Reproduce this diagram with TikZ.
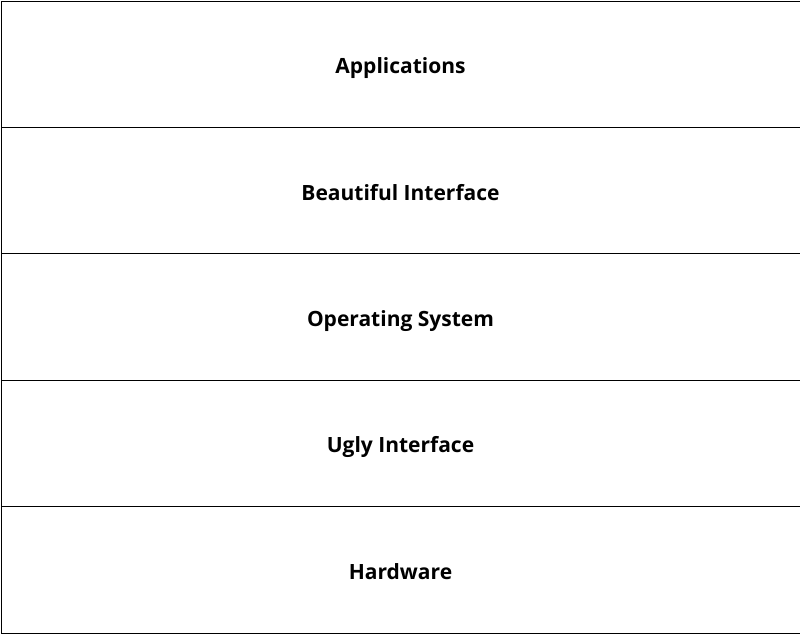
\documentclass[tikz,border=0pt]{standalone}
\usepackage{fontspec}
\setmainfont{Open Sans}
\begin{document}
\begin{tikzpicture}[x=1pt,y=-1pt,
  layer/.style={draw=black,line width=1pt,minimum width=799pt,minimum height=126.4pt,anchor=north west,inner sep=0pt,text depth=0pt,font=\fontsize{21}{25}\selectfont\bfseries}]
\useasboundingbox (0,0) rectangle (800,633);
\node[layer] (app) at (0.5,0.5) {\raisebox{-3pt}{Applications}};
\node[layer] (bi) at (0.5,126.9) {\raisebox{-3pt}{Beautiful Interface}};
\node[layer] (os) at (0.5,253.3) {\raisebox{-3pt}{Operating System}};
\node[layer] (ui) at (0.5,379.7) {\raisebox{-3pt}{Ugly Interface}};
\node[layer] (hw) at (0.5,506.1) {\raisebox{-3pt}{Hardware}};
\end{tikzpicture}
\end{document}
